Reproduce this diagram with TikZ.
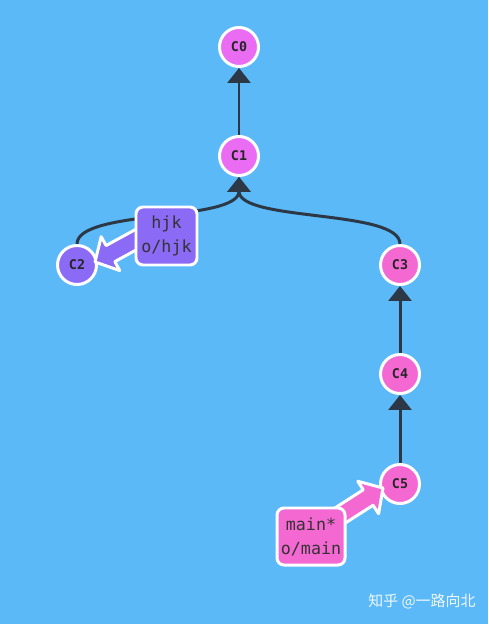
\documentclass[tikz,border=0pt]{standalone}
\usepackage{fontspec}
\setmonofont{DejaVu Sans Mono}
\newfontfamily\cjk{Noto Sans CJK SC}
\usetikzlibrary{arrows.meta,calc}

\definecolor{bgblue}{HTML}{5CB9F8}
\definecolor{magentac}{HTML}{E96CF2}
\definecolor{pinkc}{HTML}{F468D2}
\definecolor{purplec}{HTML}{8B6AF5}
\definecolor{edgec}{HTML}{2C3845}

% fat arrow from a branch label to its commit
\newcommand{\brancharrow}[3]{%
  \filldraw[#3, draw=white, line width=1.7pt, line join=round]
    let \p1=($(#2)-(#1)$), \n1={atan2(\y1,\x1)}, \n2={veclen(\x1,\y1)} in
    [shift={(#1)}, rotate=\n1]
    (0pt,-5.2pt) -- (\n2-10pt,-5.2pt) -- (\n2-10pt,-11pt) -- (\n2,0pt)
    -- (\n2-10pt,11pt) -- (\n2-10pt,5.2pt) -- (0pt,5.2pt) -- cycle;
}

\begin{document}
\begin{tikzpicture}
        \tikzstyle{every path}=[line width=1.7pt]

        \tikzstyle{commit}=[circle,draw=white,minimum size=0.78cm,inner sep=0pt,
            text=black!85,font=\ttfamily\bfseries\fontsize{7.6}{8}\selectfont]
        \tikzstyle{branch}=[draw=white,rounded corners=4pt,inner sep=0pt,
            align=center,text=black!80,font=\ttfamily\fontsize{9.5}{13.6}\selectfont]
        \tikzstyle{edge}=[draw=edgec,-{Triangle[length=8.5pt,width=13pt]}]

        \fill[bgblue] (0,0) rectangle (9.76,-12.48);
        \useasboundingbox (0,0) rectangle (9.76,-12.48);

        \node[commit,fill=magentac] at (4.78,-0.94) (c0) {C0};
        \node[commit,fill=magentac,yshift=-2.18cm] at (c0) (c1) {C1};
        \node[commit,fill=purplec] at (1.54,-5.30) (c2) {C2};
        \node[commit,fill=pinkc] at (8.00,-5.30) (c3) {C3};
        \node[commit,fill=pinkc,yshift=-2.18cm] at (c3) (c4) {C4};
        \node[commit,fill=pinkc,yshift=-2.2cm] at (c4) (c5) {C5};

        %parents
        \draw[edge] (c1) -- (c0);
        \draw[edge] (c2.north) .. controls +(0,0.7) and +(0,-0.9) .. (c1.south);
        \draw[edge] (c3.north) .. controls +(0,0.7) and +(0,-0.9) .. (c1.south);
        \draw[edge] (c4) -- (c3);
        \draw[edge] (c5) -- (c4);

        %branch labels
        \coordinate (hjkfoot) at (3.0,-4.64);
        \coordinate (hjktip) at (1.90,-5.24);
        \brancharrow{hjkfoot}{hjktip}{purplec}
        \node[branch,fill=purplec,minimum width=1.22cm,minimum height=1.16cm]
            at (3.33,-4.72) (hjk) {hjk\\o/hjk};

        \coordinate (mainfoot) at (6.6,-10.44);
        \coordinate (maintip) at (7.66,-9.76);
        \brancharrow{mainfoot}{maintip}{pinkc}
        \node[branch,fill=pinkc,minimum width=1.36cm,minimum height=1.14cm]
            at (6.22,-10.73) (main) {main*\\o/main};

        \node[text=white!90!bgblue,font=\cjk\fontsize{8.5}{9}\selectfont,anchor=west]
            at (7.22,-12.02) (mark) {知乎 @一路向北};
\end{tikzpicture}
\end{document}
